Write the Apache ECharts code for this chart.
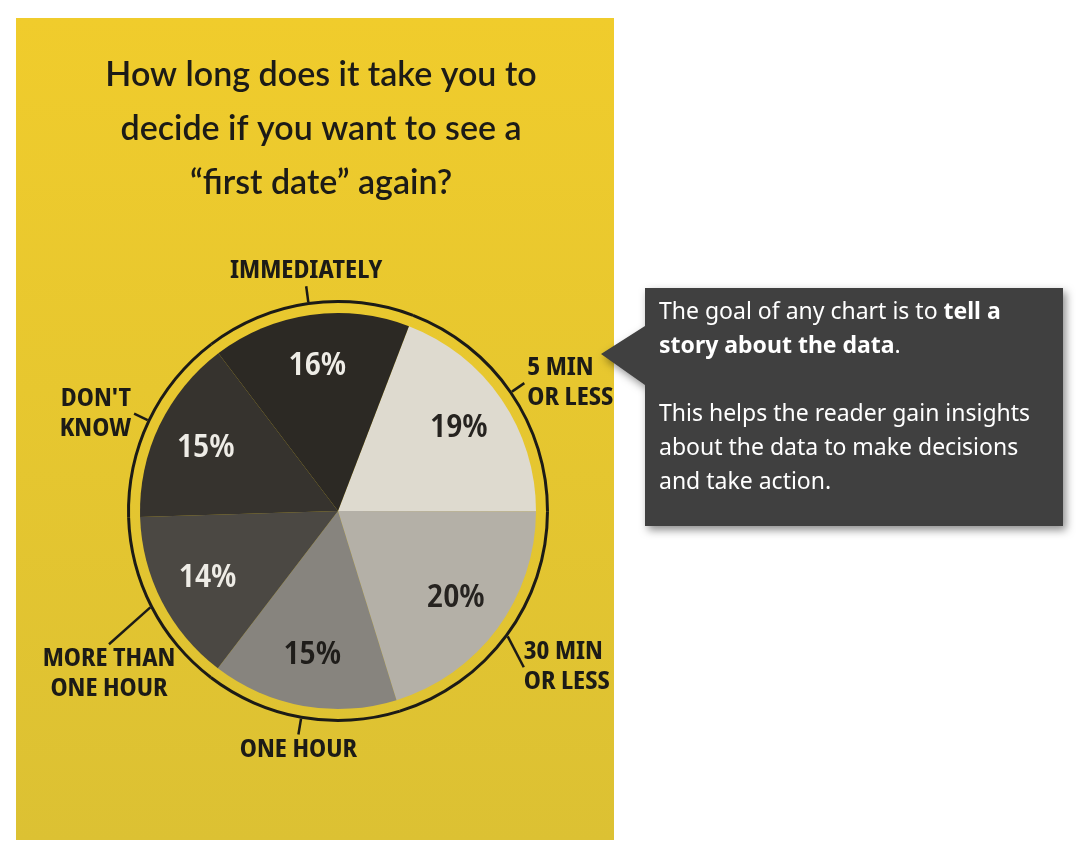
<!DOCTYPE html>
<html><head><meta charset="utf-8">
<script src="https://cdn.jsdelivr.net/npm/echarts@6/dist/echarts.min.js"></script>
<style>html,body{margin:0;padding:0;background:#fff}#c{width:1080px;height:866px}</style>
</head><body><div id="c"></div>
<script>
const categories = ['5 MIN\nOR LESS', '30 MIN\nOR LESS', 'ONE HOUR', 'MORE THAN\nONE HOUR', "DON'T\nKNOW", 'IMMEDIATELY'];
const shares = [19, 20, 15, 14, 15, 16];
const sliceColors = ['#dedacf', '#b4b0a7', '#87847e', '#4b4843', '#36332e', '#2c2924'];
const pctColors = ['#262320', '#262320', '#1f1d1a', '#eeece6', '#eeece6', '#eeece6'];
const titleLines = ['How long does it take you to', 'decide if you want to see a', '\u201Cfirst date\u201D again?'];
const calloutLines = ['The goal of any chart is to {b|tell a}', '{b|story about the data}.', '', 'This helps the reader gain insights', 'about the data to make decisions', 'and take action.'];

const CX = 338, CY = 511, R = 198;
const cond = '"Noto Sans Display", "Roboto Condensed", "Open Sans", sans-serif';
const ink = '#1c1b17';
const bodyFont = '"Noto Sans", "Open Sans", sans-serif';

function placeLabel(p) {
  const pts = p.labelLinePoints;
  if (!pts || pts.length < 2) return {};
  const a = pts[0], e = pts[pts.length - 1];
  let dx = e[0] - a[0], dy = e[1] - a[1];
  const len = Math.hypot(dx, dy) || 1;
  dx /= len; dy /= len;
  if (Math.abs(dx) < 0.35) {
    return {x: e[0], y: e[1] + (dy < 0 ? -1 : 1), align: 'center', verticalAlign: dy < 0 ? 'bottom' : 'top'};
  }
  if (dy > 0.3 && dx < 0) {
    return {x: e[0] - 28, y: e[1] + 30, align: 'center', verticalAlign: 'top'};
  }
  if (dy > 0.3 && dx > 0) {
    return {x: e[0] + 4, y: e[1] - 8, align: 'left', verticalAlign: 'top'};
  }
  return {};
}

const chart = echarts.init(document.getElementById('c'), null, {renderer: 'canvas'});
chart.setOption({
  animation: false,
  backgroundColor: '#ffffff',
  title: {
    text: titleLines.join('\n'),
    left: 316, top: 43, textAlign: 'center',
    textStyle: {fontFamily: 'Lato, "Noto Sans", sans-serif', fontWeight: '600', fontSize: 34, lineHeight: 54, color: ink}
  },
  graphic: [
    {type: 'rect', z: -10, shape: {x: 16, y: 18, width: 598, height: 822},
     style: {fill: {type: 'linear', x: 0, y: 0, x2: 0, y2: 1, colorStops: [{offset: 0, color: '#f0cc2c'}, {offset: 1, color: '#dcc133'}]}}},
    {type: 'polygon', z: 10,
     shape: {points: [[645, 288], [1063, 288], [1063, 526], [645, 526], [645, 385], [601, 354], [645, 326]]},
     style: {fill: '#404040', shadowBlur: 8, shadowOffsetX: 3, shadowOffsetY: 4, shadowColor: 'rgba(0,0,0,0.45)'}},
    {type: 'text', z: 11, x: 659, y: 295,
     style: {text: calloutLines.join('\n'), fill: '#ffffff', fontFamily: bodyFont, fontSize: 23, lineHeight: 34,
       rich: {b: {fontWeight: 'bold', fontSize: 23, lineHeight: 34, fill: '#ffffff', fontFamily: bodyFont}}}}
  ],
  series: [
    {
      type: 'pie', silent: true, center: [CX, CY], radius: [0, R], startAngle: 69, clockwise: true,
      label: {show: false}, labelLine: {show: false},
      data: shares.map((v, i) => ({name: categories[i], value: v, itemStyle: {color: sliceColors[i]}}))
    },
    {
      type: 'pie', silent: true, center: [CX, CY], radius: [R * 0.45, R], startAngle: 69, clockwise: true,
      itemStyle: {color: 'rgba(0,0,0,0)'},
      label: {show: true, position: 'inside', formatter: '{c}%', fontFamily: cond, fontSize: 32, fontWeight: '600 condensed'},
      labelLine: {show: false},
      data: shares.map((v, i) => ({name: categories[i], value: v, label: {color: pctColors[i]}}))
    },
    {
      type: 'pie', silent: true, center: [CX, CY], radius: [R + 10, R + 13], startAngle: 69, clockwise: true,
      avoidLabelOverlap: false,
      itemStyle: {color: ink},
      label: {show: true, position: 'outside', formatter: '{b}', fontFamily: cond, fontWeight: 'bold condensed', fontSize: 25, lineHeight: 30, color: ink, distanceToLabelLine: 3},
      labelLine: {show: true, length: 15, length2: 0, lineStyle: {color: ink, width: 2.5}},
      labelLayout: placeLabel,
      data: shares.map((v, i) => ({name: categories[i], value: v}))
    }
  ]
});
</script></body></html>
